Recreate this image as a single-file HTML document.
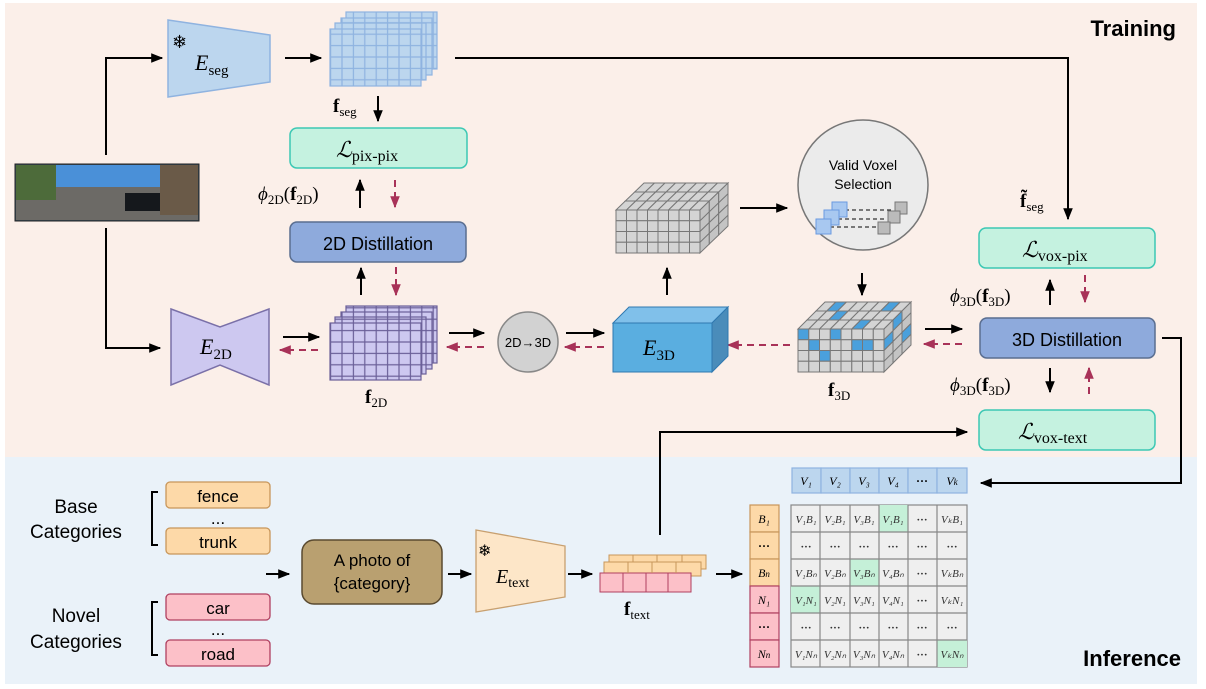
<!DOCTYPE html>
<html><head><meta charset="utf-8"><style>
body{margin:0;background:#fff}
svg{display:block}
.m{font-family:"Liberation Serif",serif;}
.s{font-family:"Liberation Sans",sans-serif;}
</style></head><body>
<svg id="sv" width="1206" height="689" viewBox="0 0 1206 689" xmlns="http://www.w3.org/2000/svg">
<defs>
<marker id="a" viewBox="0 0 10 10" refX="9" refY="5" markerWidth="6" markerHeight="6" orient="auto"><path d="M0,1 L10,5 L0,9 z" fill="#000"/></marker>
<marker id="r" viewBox="0 0 10 10" refX="9" refY="5" markerWidth="6" markerHeight="6" orient="auto"><path d="M0,1 L10,5 L0,9 z" fill="#a83258"/></marker>
<pattern id="gb" width="11.4" height="11.4" patternUnits="userSpaceOnUse"><rect width="11.4" height="11.4" fill="#bcd6ee" stroke="#8fb3e0" stroke-width="1.2"/></pattern>
<pattern id="gp" width="11.4" height="11.4" patternUnits="userSpaceOnUse"><rect width="11.4" height="11.4" fill="#cdc8f0" stroke="#6a5f98" stroke-width="1.2"/></pattern>
</defs>
<rect x="5" y="3" width="1192" height="454" fill="#fbefe9"/>
<rect x="5" y="457" width="1192" height="227" fill="#eaf2f9"/>
<text x="1176" y="36" class="s" font-size="22" font-weight="bold" text-anchor="end">Training</text>
<text x="1181" y="666" class="s" font-size="22" font-weight="bold" text-anchor="end">Inference</text>

<!-- image -->
<rect x="15" y="164" width="184" height="57" fill="#3a4d5c" stroke="#222"/>
<rect x="16" y="165" width="182" height="22" fill="#4a90d8"/>
<rect x="16" y="187" width="182" height="33" fill="#6c6a66"/>
<rect x="16" y="165" width="40" height="35" fill="#4d6b3a"/>
<rect x="160" y="165" width="38" height="50" fill="#6a5a48"/>
<rect x="125" y="193" width="35" height="18" fill="#15181c"/>

<g fill="none" stroke="#000" stroke-width="2">
<path d="M106,155 V58 H162" marker-end="url(#a)"/>
<path d="M106,228 V348 H160" marker-end="url(#a)"/>
<path d="M285,58 H321" marker-end="url(#a)"/>
<path d="M455,58 H1068 V219" marker-end="url(#a)"/>
<path d="M378,96 V121" marker-end="url(#a)"/>
<path d="M360,208 V180" marker-end="url(#a)"/>
<path d="M361,295 V268" marker-end="url(#a)"/>
<path d="M283,337 H319" marker-end="url(#a)"/>
<path d="M449,333 H484" marker-end="url(#a)"/>
<path d="M566,333 H604" marker-end="url(#a)"/>
<path d="M667,295 V268" marker-end="url(#a)"/>
<path d="M740,208 H787" marker-end="url(#a)"/>
<path d="M862,273 V295" marker-end="url(#a)"/>
<path d="M925,329 H962" marker-end="url(#a)"/>
<path d="M1050,305 V280" marker-end="url(#a)"/>
<path d="M1050,368 V392" marker-end="url(#a)"/>
<path d="M1162,338 H1181 V483 H981" marker-end="url(#a)"/>
<path d="M660,535 V432 H967" marker-end="url(#a)"/>
<path d="M266,574 H289" marker-end="url(#a)"/>
<path d="M448,574 H471" marker-end="url(#a)"/>
<path d="M568,574 H592" marker-end="url(#a)"/>
<path d="M716,574 H742" marker-end="url(#a)"/>
<path d="M158,492 H152 V545 H158"/>
<path d="M158,602 H152 V655 H158"/>
</g>
<g fill="none" stroke="#a83258" stroke-width="2" stroke-dasharray="7,5">
<path d="M395,180 V207" marker-end="url(#r)"/>
<path d="M396,267 V295" marker-end="url(#r)"/>
<path d="M318,350 H280" marker-end="url(#r)"/>
<path d="M484,347 H447" marker-end="url(#r)"/>
<path d="M604,347 H565" marker-end="url(#r)"/>
<path d="M790,345 H728" marker-end="url(#r)"/>
<path d="M962,344 H924" marker-end="url(#r)"/>
<path d="M1085,275 V302" marker-end="url(#r)"/>
<path d="M1089,394 V368" marker-end="url(#r)"/>
</g>

<polygon points="168,20 270,35 270,82 168,97" fill="#bcd6ee" stroke="#8fb3e0" stroke-width="1.5"/>
<text x="172" y="48" font-size="18" class="s">❄</text>
<text x="195" y="70" class="m" font-size="22" font-style="italic">E<tspan font-size="15" font-style="normal" dy="5">seg</tspan></text>

<g stroke="#8fb3e0" stroke-width="1.2">
<rect x="346" y="12" width="91" height="57" fill="url(#gb)"/>
<rect x="341" y="18" width="91" height="57" fill="url(#gb)"/>
<rect x="335" y="23" width="91" height="57" fill="url(#gb)"/>
<rect x="330" y="29" width="91" height="57" fill="url(#gb)"/>
</g>
<text x="333" y="112" class="m" font-size="19" font-weight="bold">f<tspan font-size="13" font-weight="normal" dy="4">seg</tspan></text>

<rect x="290" y="128" width="177" height="40" rx="7" fill="#c5f2e0" stroke="#3cc8b4" stroke-width="1.5"/>
<text x="336" y="157" class="m" font-size="22" font-style="italic">ℒ<tspan font-size="16" font-style="normal" dy="4">pix-pix</tspan></text>
<text x="258" y="200" class="m" font-size="19" font-style="italic">ϕ<tspan font-size="13" font-style="normal" dy="4">2D</tspan><tspan dy="-4" font-style="normal">(</tspan><tspan font-weight="bold" font-style="normal">f</tspan><tspan font-size="13" font-style="normal" dy="4">2D</tspan><tspan dy="-4" font-style="normal">)</tspan></text>

<rect x="290" y="222" width="176" height="40" rx="7" fill="#8eaadc" stroke="#5a6e90" stroke-width="1.5"/>
<text x="378" y="250" class="s" font-size="18" text-anchor="middle">2D Distillation</text>

<polygon points="171,309 220,327 269,309 269,385 220,365 171,385" fill="#cdc8f0" stroke="#7a70a8" stroke-width="1.5"/>
<text x="200" y="354" class="m" font-size="22" font-style="italic">E<tspan font-size="15" font-style="normal" dy="5">2D</tspan></text>

<g stroke="#6a5f98" stroke-width="1.2">
<rect x="346" y="306" width="91" height="57" fill="url(#gp)"/>
<rect x="341" y="312" width="91" height="57" fill="url(#gp)"/>
<rect x="335" y="317" width="91" height="57" fill="url(#gp)"/>
<rect x="330" y="323" width="91" height="57" fill="url(#gp)"/>
</g>
<text x="365" y="403" class="m" font-size="19" font-weight="bold">f<tspan font-size="13" font-weight="normal" dy="4">2D</tspan></text>

<circle cx="528" cy="342" r="30" fill="#d2d2d2" stroke="#888" stroke-width="1.5"/>
<text x="528" y="347" class="s" font-size="13" text-anchor="middle">2D→3D</text>

<polygon points="613,323 629,307 728,307 712,323" fill="#80c0ea" stroke="#2f78b0"/>
<polygon points="712,323 728,307 728,356 712,372" fill="#4a8cba" stroke="#2f78b0"/>
<rect x="613" y="323" width="99" height="49" fill="#5aaee0" stroke="#2f78b0"/>
<text x="643" y="355" class="m" font-size="22" font-style="italic">E<tspan font-size="15" font-style="normal" dy="5">3D</tspan></text>

<g id="cube1"></g>

<circle cx="863" cy="185" r="65" fill="#ebebeb" stroke="#777" stroke-width="1.5"/>
<text x="863" y="170" class="s" font-size="14" text-anchor="middle">Valid Voxel</text>
<text x="863" y="189" class="s" font-size="14" text-anchor="middle">Selection</text>
<g stroke="#333" stroke-dasharray="4,3" stroke-width="1.2"><line x1="845" y1="210" x2="893" y2="210"/><line x1="838" y1="219" x2="885" y2="219"/><line x1="830" y1="227" x2="878" y2="227"/></g>
<g fill="#a8c8f0" stroke="#6a9ae0"><rect x="832" y="202" width="15" height="15"/><rect x="824" y="210" width="15" height="15"/><rect x="816" y="219" width="15" height="15"/></g>
<g fill="#bbb" stroke="#777"><rect x="895" y="202" width="12" height="12"/><rect x="888" y="211" width="12" height="12"/><rect x="878" y="222" width="12" height="12"/></g>

<g id="cube2"></g>
<text x="828" y="396" class="m" font-size="19" font-weight="bold">f<tspan font-size="13" font-weight="normal" dy="4">3D</tspan></text>

<text x="1020" y="207" class="m" font-size="19" font-weight="bold">f̃<tspan font-size="13" font-weight="normal" dy="4">seg</tspan></text>
<rect x="979" y="228" width="176" height="40" rx="7" fill="#c5f2e0" stroke="#3cc8b4" stroke-width="1.5"/>
<text x="1022" y="257" class="m" font-size="22" font-style="italic">ℒ<tspan font-size="16" font-style="normal" dy="4">vox-pix</tspan></text>
<text x="950" y="302" class="m" font-size="19" font-style="italic">ϕ<tspan font-size="13" font-style="normal" dy="4">3D</tspan><tspan dy="-4" font-style="normal">(</tspan><tspan font-weight="bold" font-style="normal">f</tspan><tspan font-size="13" font-style="normal" dy="4">3D</tspan><tspan dy="-4" font-style="normal">)</tspan></text>
<rect x="980" y="318" width="175" height="40" rx="7" fill="#8eaadc" stroke="#5a6e90" stroke-width="1.5"/>
<text x="1067" y="346" class="s" font-size="18" text-anchor="middle">3D Distillation</text>
<text x="950" y="391" class="m" font-size="19" font-style="italic">ϕ<tspan font-size="13" font-style="normal" dy="4">3D</tspan><tspan dy="-4" font-style="normal">(</tspan><tspan font-weight="bold" font-style="normal">f</tspan><tspan font-size="13" font-style="normal" dy="4">3D</tspan><tspan dy="-4" font-style="normal">)</tspan></text>
<rect x="979" y="410" width="176" height="40" rx="7" fill="#c5f2e0" stroke="#3cc8b4" stroke-width="1.5"/>
<text x="1018" y="439" class="m" font-size="22" font-style="italic">ℒ<tspan font-size="16" font-style="normal" dy="4">vox-text</tspan></text>

<g class="s" font-size="19" text-anchor="middle"><text x="76" y="513">Base</text><text x="76" y="538">Categories</text><text x="76" y="622">Novel</text><text x="76" y="648">Categories</text></g>
<g stroke-width="1.3">
<rect x="166" y="482" width="104" height="26" rx="4" fill="#fdd9a8" stroke="#c8965a"/>
<rect x="166" y="528" width="104" height="26" rx="4" fill="#fdd9a8" stroke="#c8965a"/>
<rect x="166" y="594" width="104" height="26" rx="4" fill="#fcc0c8" stroke="#b04060"/>
<rect x="166" y="640" width="104" height="26" rx="4" fill="#fcc0c8" stroke="#b04060"/>
</g>
<g class="s" font-size="17" text-anchor="middle"><text x="218" y="502">fence</text><text x="218" y="524">...</text><text x="218" y="548">trunk</text><text x="218" y="614">car</text><text x="218" y="635">...</text><text x="218" y="660">road</text></g>
<rect x="302" y="540" width="140" height="64" rx="12" fill="#b9a070" stroke="#5a4a30" stroke-width="1.5"/>
<text x="372" y="566" class="s" font-size="17" text-anchor="middle">A photo of</text>
<text x="372" y="589" class="s" font-size="17" text-anchor="middle">{category}</text>
<polygon points="476,530 565,546 565,597 476,612" fill="#fde6c8" stroke="#c8a070" stroke-width="1.3"/>
<text x="478" y="556" font-size="16" class="s">❄</text>
<text x="496" y="583" class="m" font-size="20" font-style="italic">E<tspan font-size="14" font-style="normal" dy="4">text</tspan></text>
<g stroke="#c8965a" fill="#fdd9a8"><rect x="609" y="555" width="97" height="14"/><rect x="604" y="562" width="97" height="14"/></g>
<g stroke="#b04060" fill="#fcc0c8"><rect x="600" y="573" width="91" height="19"/></g>
<g stroke="#c8965a"><line x1="633" y1="555" x2="633" y2="562"/><line x1="657" y1="555" x2="657" y2="562"/><line x1="682" y1="555" x2="682" y2="562"/><line x1="628" y1="562" x2="628" y2="573"/><line x1="652" y1="562" x2="652" y2="573"/><line x1="676" y1="562" x2="676" y2="573"/></g>
<g stroke="#b04060"><line x1="623" y1="573" x2="623" y2="592"/><line x1="646" y1="573" x2="646" y2="592"/><line x1="668" y1="573" x2="668" y2="592"/></g>
<text x="624" y="615" class="m" font-size="19" font-weight="bold">f<tspan font-size="13" font-weight="normal" dy="4">text</tspan></text>

<g fill="#bcd6ee" stroke="#8fb3e0" stroke-width="1.2">
<rect x="792" y="468" width="29" height="25"/><rect x="821" y="468" width="29" height="25"/><rect x="850" y="468" width="29" height="25"/><rect x="879" y="468" width="29" height="25"/><rect x="908" y="468" width="29" height="25"/><rect x="937" y="468" width="30" height="25"/>
</g>
<g class="m" font-size="12" font-style="italic" text-anchor="middle"><text x="806" y="485">V₁</text><text x="835" y="485">V₂</text><text x="864" y="485">V₃</text><text x="893" y="485">V₄</text><text x="922" y="485" font-style="normal" font-weight="bold">···</text><text x="952" y="485">V<tspan font-size="9">k</tspan></text></g>

<g stroke-width="1.2">
<rect x="750" y="505" width="29" height="27" fill="#fdd9a8" stroke="#c8965a"/><rect x="750" y="532" width="29" height="27" fill="#fdd9a8" stroke="#c8965a"/><rect x="750" y="559" width="29" height="27" fill="#fdd9a8" stroke="#c8965a"/>
<rect x="750" y="586" width="29" height="27" fill="#fcc0c8" stroke="#b04060"/><rect x="750" y="613" width="29" height="27" fill="#fcc0c8" stroke="#b04060"/><rect x="750" y="640" width="29" height="27" fill="#fcc0c8" stroke="#b04060"/>
</g>
<g class="m" font-size="12" font-style="italic" text-anchor="middle"><text x="764" y="523">B₁</text><text x="764" y="550" font-style="normal" font-weight="bold">···</text><text x="764" y="577">B<tspan font-size="9">n</tspan></text><text x="764" y="604">N₁</text><text x="764" y="631" font-style="normal" font-weight="bold">···</text><text x="764" y="658">N<tspan font-size="9">n</tspan></text></g>

<rect x="791" y="505" width="176" height="162" fill="#efefef" stroke="#888" stroke-width="1.2"/>
<g fill="#c5f0d8"><rect x="879" y="505" width="29" height="27"/><rect x="850" y="559" width="29" height="27"/><rect x="791" y="586" width="29" height="27"/><rect x="937" y="640" width="30" height="27"/></g>
<g stroke="#888" stroke-width="1.2">
<line x1="820" y1="505" x2="820" y2="667"/><line x1="850" y1="505" x2="850" y2="667"/><line x1="879" y1="505" x2="879" y2="667"/><line x1="908" y1="505" x2="908" y2="667"/><line x1="937" y1="505" x2="937" y2="667"/>
<line x1="791" y1="532" x2="967" y2="532"/><line x1="791" y1="559" x2="967" y2="559"/><line x1="791" y1="586" x2="967" y2="586"/><line x1="791" y1="613" x2="967" y2="613"/><line x1="791" y1="640" x2="967" y2="640"/>
</g>
<g class="m" font-size="11" font-style="italic" text-anchor="middle" fill="#333">
<text x="806" y="523">V₁B₁</text><text x="835" y="523">V₂B₁</text><text x="864" y="523">V₃B₁</text><text x="893" y="523">V₁B₁</text><text x="922" y="523" font-style="normal" font-weight="bold">···</text><text x="952" y="523">VₖB₁</text>
<text x="806" y="550" font-style="normal" font-weight="bold">···</text><text x="835" y="550" font-style="normal" font-weight="bold">···</text><text x="864" y="550" font-style="normal" font-weight="bold">···</text><text x="893" y="550" font-style="normal" font-weight="bold">···</text><text x="922" y="550" font-style="normal" font-weight="bold">···</text><text x="952" y="550" font-style="normal" font-weight="bold">···</text>
<text x="806" y="577">V₁Bₙ</text><text x="835" y="577">V₂Bₙ</text><text x="864" y="577">V₃Bₙ</text><text x="893" y="577">V₄Bₙ</text><text x="922" y="577" font-style="normal" font-weight="bold">···</text><text x="952" y="577">VₖBₙ</text>
<text x="806" y="604">V₁N₁</text><text x="835" y="604">V₂N₁</text><text x="864" y="604">V₃N₁</text><text x="893" y="604">V₄N₁</text><text x="922" y="604" font-style="normal" font-weight="bold">···</text><text x="952" y="604">VₖN₁</text>
<text x="806" y="631" font-style="normal" font-weight="bold">···</text><text x="835" y="631" font-style="normal" font-weight="bold">···</text><text x="864" y="631" font-style="normal" font-weight="bold">···</text><text x="893" y="631" font-style="normal" font-weight="bold">···</text><text x="922" y="631" font-style="normal" font-weight="bold">···</text><text x="952" y="631" font-style="normal" font-weight="bold">···</text>
<text x="806" y="658">V₁Nₙ</text><text x="835" y="658">V₂Nₙ</text><text x="864" y="658">V₃Nₙ</text><text x="893" y="658">V₄Nₙ</text><text x="922" y="658" font-style="normal" font-weight="bold">···</text><text x="952" y="658">VₖNₙ</text>
</g>
</svg>
<script>
(function(){
var NS="http://www.w3.org/2000/svg";
function cube(gid,x,y,w,h,dx,dy,cols,rows,depth,blue){
 var g=document.getElementById(gid),s="";
 var cw=w/cols,ch=h/rows,ddx=dx/depth,ddy=dy/depth;
 function poly(p,f){s+='<polygon points="'+p+'" fill="'+f+'" stroke="#777" stroke-width="1"/>';}
 function q(a){return a.map(function(v){return v[0].toFixed(1)+","+v[1].toFixed(1)}).join(" ");}
 var isB=function(f,i,j){return blue.indexOf(f+i+"_"+j)>=0;};
 // top face
 for(var j=depth-1;j>=0;j--)for(var i=0;i<cols;i++){
  var x0=x+i*cw+j*ddx,y0=y+j*ddy;
  poly(q([[x0,y0],[x0+cw,y0],[x0+cw+ddx,y0+ddy],[x0+ddx,y0+ddy]]),isB("t",i,j)?"#4aa0dc":"#d4d4d4");}
 // side
 for(var j=0;j<depth;j++)for(var r=0;r<rows;r++){
  var x0=x+w+j*ddx,y0=y+r*ch+j*ddy;
  poly(q([[x0,y0],[x0+ddx,y0+ddy],[x0+ddx,y0+ddy+ch],[x0,y0+ch]]),isB("s",r,j)?"#4aa0dc":"#c4c4c4");}
 for(var r=0;r<rows;r++)for(var i=0;i<cols;i++){
  poly(q([[x+i*cw,y+r*ch],[x+(i+1)*cw,y+r*ch],[x+(i+1)*cw,y+(r+1)*ch],[x+i*cw,y+(r+1)*ch]]),isB("f",i,r)?"#4aa0dc":"#d4d4d4");}
 g.innerHTML=s;
}
cube("cube1",616,210,84,43,28,-27,8,4,3,[]);
cube("cube2",798,329,86,43,27,-27,8,4,3,["f0_0","f1_1","f3_0","f5_1","f6_1","f2_2","t2_1","t5_0","t6_2","t1_2","s1_0","s2_2","s0_1"]);
})();
</script>
</body></html>
